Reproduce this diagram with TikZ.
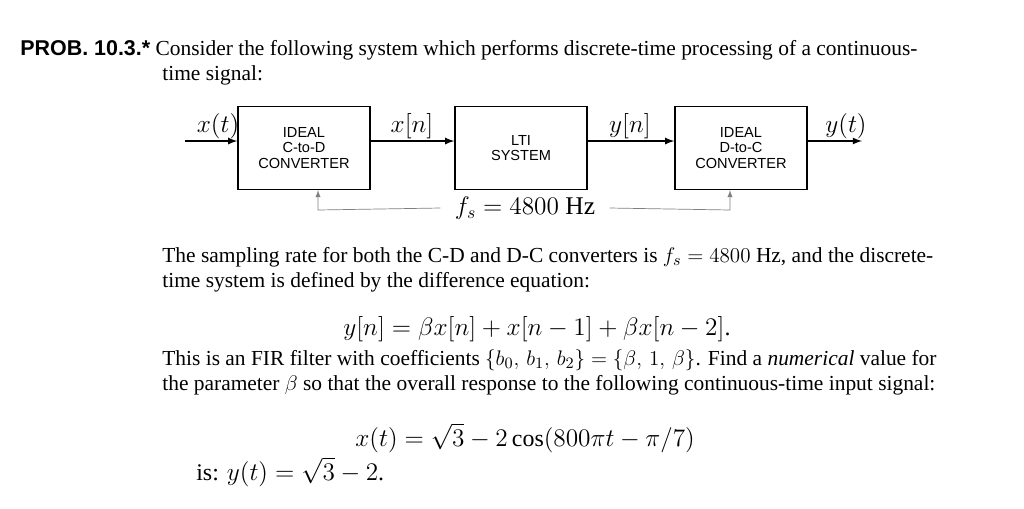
\documentclass[tikz,border=0pt]{standalone}
\usepackage{fontspec}
\setmainfont{Liberation Serif}
\setsansfont{Liberation Sans}
\begin{document}
\begin{tikzpicture}[x=0.02cm,y=-0.02cm,
  blk/.style={draw,thick,minimum width=2.64cm,minimum height=1.66cm,align=center,font=\sffamily\fontsize{8.3}{8.6}\selectfont},
  sig/.style={thick,-latex},
  ctl/.style={gray,-latex},
  txt/.style={anchor=base west,inner sep=0pt,font=\fontsize{12.2}{14}\selectfont},
  eqn/.style={anchor=base west,inner sep=0pt,font=\fontsize{13.6}{15}\selectfont},
  lbl/.style={font=\fontsize{14.5}{16}\selectfont}]
\useasboundingbox (0,0) rectangle (1024,508);
\node[txt] (p1) at (20,55) {{\sffamily\bfseries PROB. 10.3.*} Consider the following system which performs discrete-time processing of a continuous-};
\node[txt] (p2) at (162,80) {time signal:};
\node[blk] (b1) at (304,148) {IDEAL\\C-to-D\\CONVERTER};
\node[blk] (b2) at (521,148) {LTI\\SYSTEM};
\node[blk] (b3) at (741,148) {IDEAL\\D-to-C\\CONVERTER};
\coordinate (in) at (185,141);
\coordinate (out) at (862,141);
\draw[sig] (in) -- (in -| b1.west);
\draw[sig] (b1.east |- in) -- (b2.west |- in);
\draw[sig] (b2.east |- in) -- (b3.west |- in);
\draw[sig] (b3.east |- in) -- (out);
\node[lbl] (lx) at (218,126) {$x(t)$};
\node[lbl] (lxn) at (412,126) {$x[n]$};
\node[lbl] (lyn) at (630,126) {$y[n]$};
\node[lbl] (lyt) at (846,126) {$y(t)$};
\node[lbl,inner xsep=8pt] (fs) at (525,208) {$f_s=4800$ Hz};
\coordinate (c1) at (318,210);
\coordinate (c3) at (730,210);
\draw[ctl] (fs.west) -- (c1) -- (c1 |- b1.south);
\draw[ctl] (fs.east) -- (c3) -- (c3 |- b3.south);
\node[txt] (t1) at (162,262) {The sampling rate for both the C-D and D-C converters is $f_s=4800$ Hz, and the discrete-};
\node[txt] (t2) at (162,287) {time system is defined by the difference equation:};
\node[eqn] (eq) at (343,335) {$y[n]=\beta x[n]+x[n-1]+\beta x[n-2]$.};
\node[txt] (t3) at (162,365) {This is an FIR filter with coefficients $\{b_0,\,b_1,\,b_2\}=\{\beta,\,1,\,\beta\}$. Find a \textit{numerical} value for};
\node[txt] (t4) at (162,390) {the parameter $\beta$ so that the overall response to the following continuous-time input signal:};
\node[eqn] (eq2) at (355,446) {$x(t)=\sqrt{3}-2\cos(800\pi t-\pi/7)$};
\node[eqn] (t5) at (196,480) {is: $y(t)=\sqrt{3}-2$.};
\end{tikzpicture}
\end{document}
